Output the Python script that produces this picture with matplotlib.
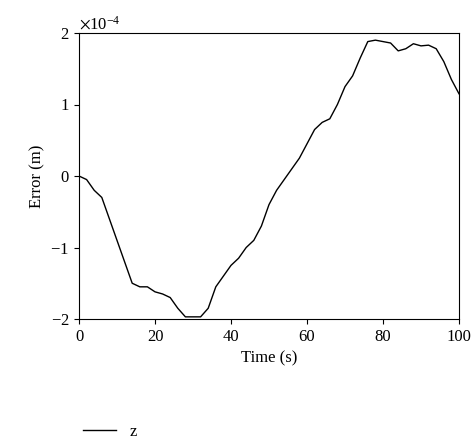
import matplotlib
matplotlib.use("Agg")
import matplotlib.pyplot as plt
import numpy as np

plt.rcParams['font.family'] = ['Liberation Serif', 'DejaVu Serif']
plt.rcParams['font.size'] = 12
plt.rcParams['mathtext.fontset'] = 'stix'

time_s = [0, 2, 4, 6, 8, 10, 12, 14, 16, 18, 20, 22, 24, 26, 28, 30, 32, 34, 36, 38,
          40, 42, 44, 46, 48, 50, 52, 54, 56, 58, 60, 62, 64, 66, 68, 70, 72, 74, 76, 78,
          80, 82, 84, 86, 88, 90, 92, 94, 96, 98, 100]
err_z = [0, -0.05, -0.2, -0.3, -0.6, -0.9, -1.2, -1.5, -1.55, -1.55, -1.62, -1.65, -1.7,
         -1.85, -1.97, -1.97, -1.97, -1.85, -1.55, -1.4, -1.25, -1.15, -1.0, -0.9, -0.7,
         -0.4, -0.2, -0.05, 0.1, 0.25, 0.45, 0.65, 0.75, 0.8, 1.0, 1.25, 1.4, 1.65, 1.88,
         1.9, 1.88, 1.86, 1.75, 1.78, 1.85, 1.82, 1.83, 1.78, 1.6, 1.35, 1.15]

fig = plt.figure(figsize=(4.74, 4.43), dpi=100)
ax = fig.add_axes([79/474, 1 - 319/443, 380/474, 286/443])
line, = ax.plot(time_s, np.array(err_z) * 1e-4, color='black', lw=1)
ax.set_xlim(0, 100)
ax.set_ylim(-2e-4, 2e-4)
ax.set_xticks([0, 20, 40, 60, 80, 100])
ax.set_yticks([-2e-4, -1e-4, 0, 1e-4, 2e-4])
ax.ticklabel_format(axis='y', style='sci', scilimits=(0, 0), useMathText=True)
ax.set_xlabel('Time (s)')
ax.set_ylabel('Error (m)')
fig.legend([line], ['z'], loc='lower left', bbox_to_anchor=(0.15, -0.02),
           frameon=False, borderpad=0.2)
fig.savefig('out.png', dpi=100)
